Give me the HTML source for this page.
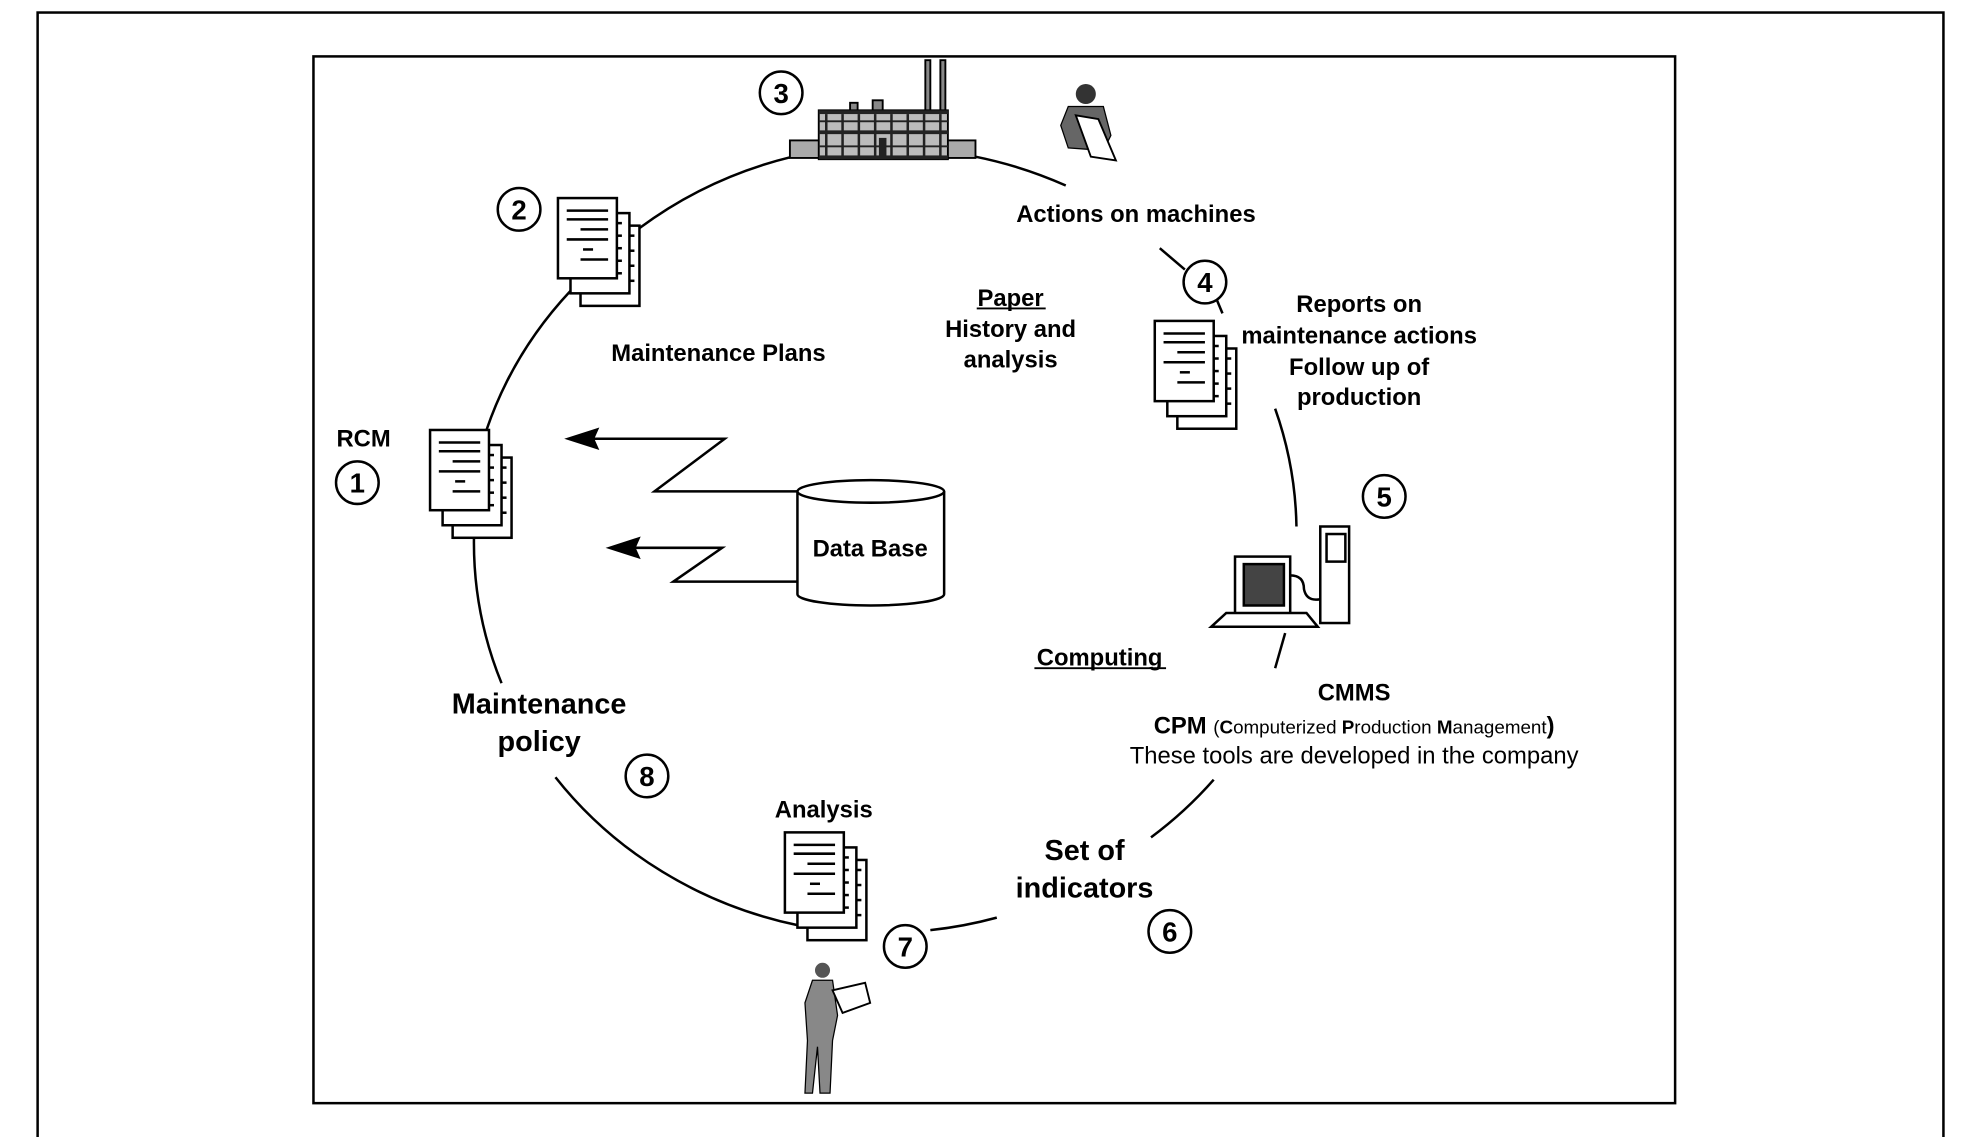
<!DOCTYPE html>
<html><head><meta charset="utf-8"><style>
html,body{margin:0;padding:0;background:#fff;}
svg{display:block;}
text{font-family:"Liberation Sans",sans-serif;font-weight:bold;fill:#000;}
.n{font-weight:normal;}
</style></head><body>
<svg width="1966" height="1137" viewBox="0 0 1568 907" preserveAspectRatio="none" xmlns="http://www.w3.org/2000/svg">
<defs>
<g id="doc">
  <rect x="18" y="22" width="47" height="64" fill="#fff" stroke="#000" stroke-width="2"/>
  <rect x="10" y="12" width="47" height="64" fill="#fff" stroke="#000" stroke-width="2"/>
  <rect x="0" y="0" width="47" height="64" fill="#fff" stroke="#000" stroke-width="2"/>
  <g stroke="#000" stroke-width="2">
   <line x1="7" y1="10" x2="40" y2="10"/><line x1="7" y1="17" x2="40" y2="17"/>
   <line x1="18" y1="25" x2="40" y2="25"/><line x1="7" y1="33" x2="40" y2="33"/>
   <line x1="20" y1="41" x2="28" y2="41"/><line x1="18" y1="49" x2="40" y2="49"/>
   <line x1="47" y1="20" x2="51" y2="20"/><line x1="47" y1="30" x2="51" y2="30"/><line x1="47" y1="40" x2="51" y2="40"/><line x1="47" y1="50" x2="51" y2="50"/><line x1="47" y1="60" x2="51" y2="60"/>
   <line x1="57" y1="30" x2="61" y2="30"/><line x1="57" y1="42" x2="61" y2="42"/><line x1="57" y1="54" x2="61" y2="54"/><line x1="57" y1="66" x2="61" y2="66"/>
  </g>
</g>
</defs>
<rect x="30" y="10" width="1520" height="920" fill="none" stroke="#000" stroke-width="2"/>
<rect x="250" y="45" width="1086" height="835" fill="none" stroke="#000" stroke-width="2"/>

<g fill="none" stroke="#000" stroke-width="2">
<path d="M388 343 A330 312 0 0 1 455 232"/>
<path d="M510 182 A330 312 0 0 1 632 125"/>
<path d="M778 125 A330 312 0 0 1 850 148"/>
<path d="M925 198 L945 215"/>
<path d="M970 238 L975 250"/>
<path d="M1017 326 A330 312 0 0 1 1034 420"/>
<path d="M1025 505 L1017 533"/>
<path d="M968 622 A330 312 0 0 1 918 668"/>
<path d="M795 732 A330 312 0 0 1 742 742"/>
<path d="M636 738 A330 312 0 0 1 443 620"/>
<path d="M400 545 A330 312 0 0 1 378 430"/>
</g>

<!-- docs -->
<use href="#doc" x="445" y="158"/>
<use href="#doc" x="343" y="343"/>
<use href="#doc" x="921" y="256"/>
<use href="#doc" x="626" y="664"/>

<!-- factory -->
<g stroke="#000" stroke-width="1.5">
<rect x="738" y="48" width="4" height="60" fill="#888"/>
<rect x="750" y="48" width="4" height="60" fill="#888"/>
<rect x="630" y="112" width="148" height="14" fill="#aaa"/>
<rect x="653" y="88" width="103" height="39" fill="#bbb"/>
<rect x="678" y="82" width="6" height="6" fill="#888"/>
<rect x="696" y="80" width="8" height="8" fill="#888"/>
</g>
<g fill="#222">
<rect x="653" y="104" width="103" height="3"/>
<rect x="653" y="88" width="103" height="3"/>
<rect x="653" y="124" width="103" height="3"/>
<rect x="658" y="91" width="2" height="36"/><rect x="671" y="91" width="2" height="36"/><rect x="684" y="91" width="2" height="36"/><rect x="697" y="91" width="2" height="36"/><rect x="710" y="91" width="2" height="36"/><rect x="723" y="91" width="2" height="36"/><rect x="736" y="91" width="2" height="36"/><rect x="749" y="91" width="2" height="36"/>
<rect x="653" y="96" width="103" height="1.5"/><rect x="653" y="116" width="103" height="1.5"/>
<rect x="701" y="110" width="6" height="17"/>
</g>

<!-- worker -->
<g>
<circle cx="866" cy="75" r="8" fill="#333"/>
<path d="M852 85 L880 85 L886 108 L880 120 L852 118 L846 100 Z" fill="#666" stroke="#000"/>
<path d="M858 92 L876 95 L890 128 L870 125 Z" fill="#fff" stroke="#000" stroke-width="1.5"/>
</g>

<!-- database -->
<path d="M636 392 L636 474 A58.5 9 0 0 0 753 474 L753 392" fill="#fff" stroke="#000" stroke-width="2"/>
<ellipse cx="694.5" cy="392" rx="58.5" ry="9" fill="#fff" stroke="#000" stroke-width="2"/>
<text x="694" y="444" font-size="19" text-anchor="middle">Data Base</text>

<!-- arrows -->
<polyline points="470,350 578,350 522,392 636,392" fill="none" stroke="#000" stroke-width="2"/>
<polygon points="450,350 478,341 474,350 478,359" fill="#000"/>
<polyline points="503,437 576,437 537,464 636,464" fill="none" stroke="#000" stroke-width="2"/>
<polygon points="483,437 511,428 507,437 511,446" fill="#000"/>

<!-- computer -->
<g stroke="#000" stroke-width="2">
<rect x="1053" y="420" width="23" height="77" fill="#fff"/>
<rect x="1058" y="426" width="15" height="22" fill="#fff"/>
<rect x="985" y="444" width="44" height="48" fill="#fff"/>
<rect x="992" y="450" width="32" height="33" fill="#444"/>
<path d="M978 489 L1042 489 L1051 500 L966 500 Z" fill="#fff"/>
<path d="M1029 459 Q1040 459 1040 470 Q1042 480 1053 478" fill="none"/>
</g>

<!-- person -->
<g>
<circle cx="656" cy="774" r="6" fill="#555"/>
<path d="M648 782 L664 782 L668 810 L664 830 L662 872 L654 872 L652 835 L648 872 L642 872 L644 830 L642 800 Z" fill="#888" stroke="#000"/>
<path d="M664 790 L690 784 L694 800 L672 808 Z" fill="#fff" stroke="#000" stroke-width="1.5"/>
</g>

<!-- circles -->
<g fill="#fff" stroke="#000" stroke-width="2">
<circle cx="623" cy="74" r="17"/><circle cx="414" cy="167" r="17"/><circle cx="285" cy="385" r="17"/>
<circle cx="961" cy="225" r="17"/><circle cx="1104" cy="396" r="17"/><circle cx="933" cy="743" r="17"/>
<circle cx="722" cy="755" r="17"/><circle cx="516" cy="619" r="17"/>
</g>
<g font-size="22" text-anchor="middle">
<text x="623" y="82">3</text><text x="414" y="175">2</text><text x="285" y="393">1</text>
<text x="961" y="233">4</text><text x="1104" y="404">5</text><text x="933" y="751">6</text>
<text x="722" y="763">7</text><text x="516" y="627">8</text>
</g>

<!-- labels -->
<g font-size="19" text-anchor="middle">
<text x="906" y="177">Actions on machines</text>
<text x="573" y="288">Maintenance Plans</text>
<text x="806" y="244">Paper</text>
<text x="806" y="269">History and</text>
<text x="806" y="293">analysis</text>
<text x="1084" y="249">Reports on</text>
<text x="1084" y="274">maintenance actions</text>
<text x="1084" y="299">Follow up of</text>
<text x="1084" y="323">production</text>
<text x="290" y="356">RCM</text>
<text x="877" y="531">Computing</text>
<text x="1080" y="559">CMMS</text>
<text x="657" y="652">Analysis</text>
</g>
<line x1="779" y1="246" x2="834" y2="246" stroke="#000" stroke-width="1.5"/>
<line x1="825" y1="533" x2="930" y2="533" stroke="#000" stroke-width="1.5"/>
<text x="1080" y="585" font-size="19" text-anchor="middle">CPM <tspan font-size="15" class="n">(</tspan><tspan font-size="15">C</tspan><tspan font-size="15" class="n">omputerized </tspan><tspan font-size="15">P</tspan><tspan font-size="15" class="n">roduction </tspan><tspan font-size="15">M</tspan><tspan font-size="15" class="n">anagement</tspan>)</text>
<text x="1080" y="609" font-size="19" class="n" text-anchor="middle">These tools are developed in the company</text>
<g font-size="23" text-anchor="middle">
<text x="430" y="569">Maintenance</text>
<text x="430" y="599">policy</text>
<text x="865" y="686">Set of</text>
<text x="865" y="716">indicators</text>
</g>
</svg>
</body></html>
